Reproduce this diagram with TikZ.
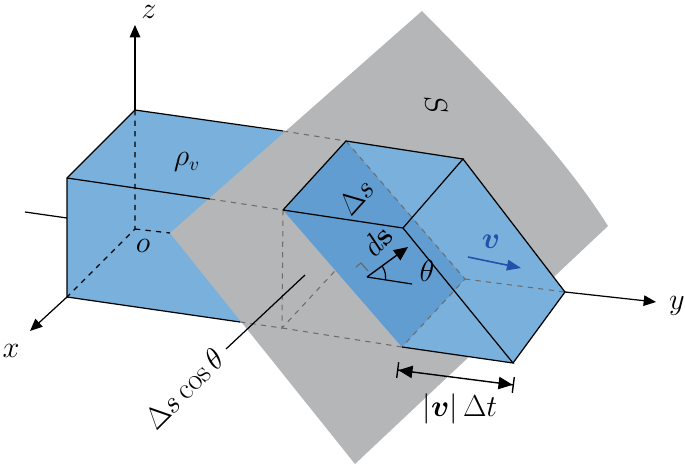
\documentclass[tikz,border=0pt]{standalone}
\usepackage{amsmath,bm}
\usetikzlibrary{arrows.meta}
\definecolor{lb}{RGB}{122,177,220}
\definecolor{db}{RGB}{97,157,209}
\definecolor{pg}{RGB}{180,182,184}
\definecolor{vb}{RGB}{35,80,170}
\begin{document}
\begin{tikzpicture}[x=0.2mm,y=-0.2mm,font=\fontsize{16}{18}\selectfont,
  edge/.style={black,line width=0.7pt},
  hid/.style={gray!85!black,dashed,line width=0.6pt},
  hidk/.style={black,dashed,line width=0.7pt},
  axis/.style={black,line width=0.7pt,-{Triangle[length=7pt,width=6pt]}}]
\useasboundingbox (0,0) rectangle (685,464);
% coordinates
\coordinate (P1) at (67,178); \coordinate (P2) at (135,110);
\coordinate (P3) at (67,297); \coordinate (O) at (135,229);
\coordinate (A) at (283,210); \coordinate (B) at (346,141);
\coordinate (C) at (463,159); \coordinate (D) at (403,228);
\coordinate (E) at (513,363); \coordinate (F) at (402,347);
\coordinate (G) at (565,292); \coordinate (H) at (465,279);
\coordinate (Q) at (282,328); \coordinate (R) at (346,259);
\coordinate (S1) at (422,11); \coordinate (S2) at (608,226);
\coordinate (S3) at (355,464); \coordinate (S4) at (170,233);
% left box
\fill[lb] (P1) -- (P2) -- (B) -- (A) -- (Q) -- (P3) -- cycle;
% plane
\fill[pg] (S4) -- (S1) .. controls (490,80) and (560,150) .. (S2) -- (S3) -- cycle;
% left box edges
\draw[edge] (P3) -- (P1) -- (P2) -- (283,131);
\draw[hid] (283,131) -- (B);
\draw[edge] (P1) -- (210,199); \draw[hid] (210,199) -- (A);
\draw[edge] (P3) -- (240,322); \draw[hid] (240,322) -- (Q);
\draw[hid] (A) -- (Q) -- (R) -- (H); \draw[hid] (Q) -- (F);
\draw[hidk] (P2) -- (O) -- (P3); \draw[hidk] (O) -- (S4);
% slanted box
\fill[lb] (A) -- (B) -- (C) -- (G) -- (E) -- (F) -- cycle;
\fill[db] (A) -- (B) -- (H) -- (F) -- cycle;
\draw[hid] (B) -- (H) -- (F); \draw[hid] (H) -- (G);
\draw[edge] (A) -- (B) -- (C) -- (D) -- (A);
\draw[edge] (D) -- (E) -- (F);
\draw[edge] (C) -- (G) -- (E);
% axes
\draw[axis] (P2) -- (135,25);
\node (zl) at (149,12) {$z$};
\draw[axis] (P3) -- (30,331);
\node (xl) at (11,351) {$x$};
\draw[edge] (25,212) -- (67,218);
\draw[axis] (G) -- (656,302);
\node (yl) at (677,306) {$y$};
\node (ol) at (143,246) {$o$};
% labels
\node (rho) at (187,162) {$\rho_v$};
\node[rotate=-80] (Sl) at (436,105) {$S$};
\node[rotate=48] (dS) at (356,197) {$\Delta s$};
% ds arrow and angle
\coordinate (d0) at (367,277);
\draw[black,line width=0.8pt,-{Triangle[length=8pt,width=7pt]}] (d0) -- (408,247);
\draw[edge] (d0) -- (412,284);
\draw[edge] (382,266) arc[start angle=-36,end angle=9,radius=19];
\draw[gray!80!black,line width=0.6pt] (356,267) -- (361,263) -- (368,271);
\node[rotate=48] (dsl) at (377,241) {$d\mathbf{s}$};
\node (th) at (427,271) {$\theta$};
% v
\draw[vb,line width=0.9pt,-{Triangle[length=8pt,width=6pt]}] (468,257) -- (521,268);
\node[text=vb] (vl) at (491,242) {$\bm{v}$};
% Delta s cos theta
\draw[edge] (305,275) -- (226,349);
\node[rotate=45] (dsc) at (184,389) {$\Delta s\cos\theta$};
% |v| dt
\draw[black,line width=0.8pt,{Bar[width=9pt]Triangle[length=8pt,width=7pt]}-{Triangle[length=8pt,width=7pt]Bar[width=9pt]}] (397,370) -- (514,385);
\node (vt) at (460,409) {$|\bm{v}|\,\Delta t$};
\end{tikzpicture}
\end{document}
